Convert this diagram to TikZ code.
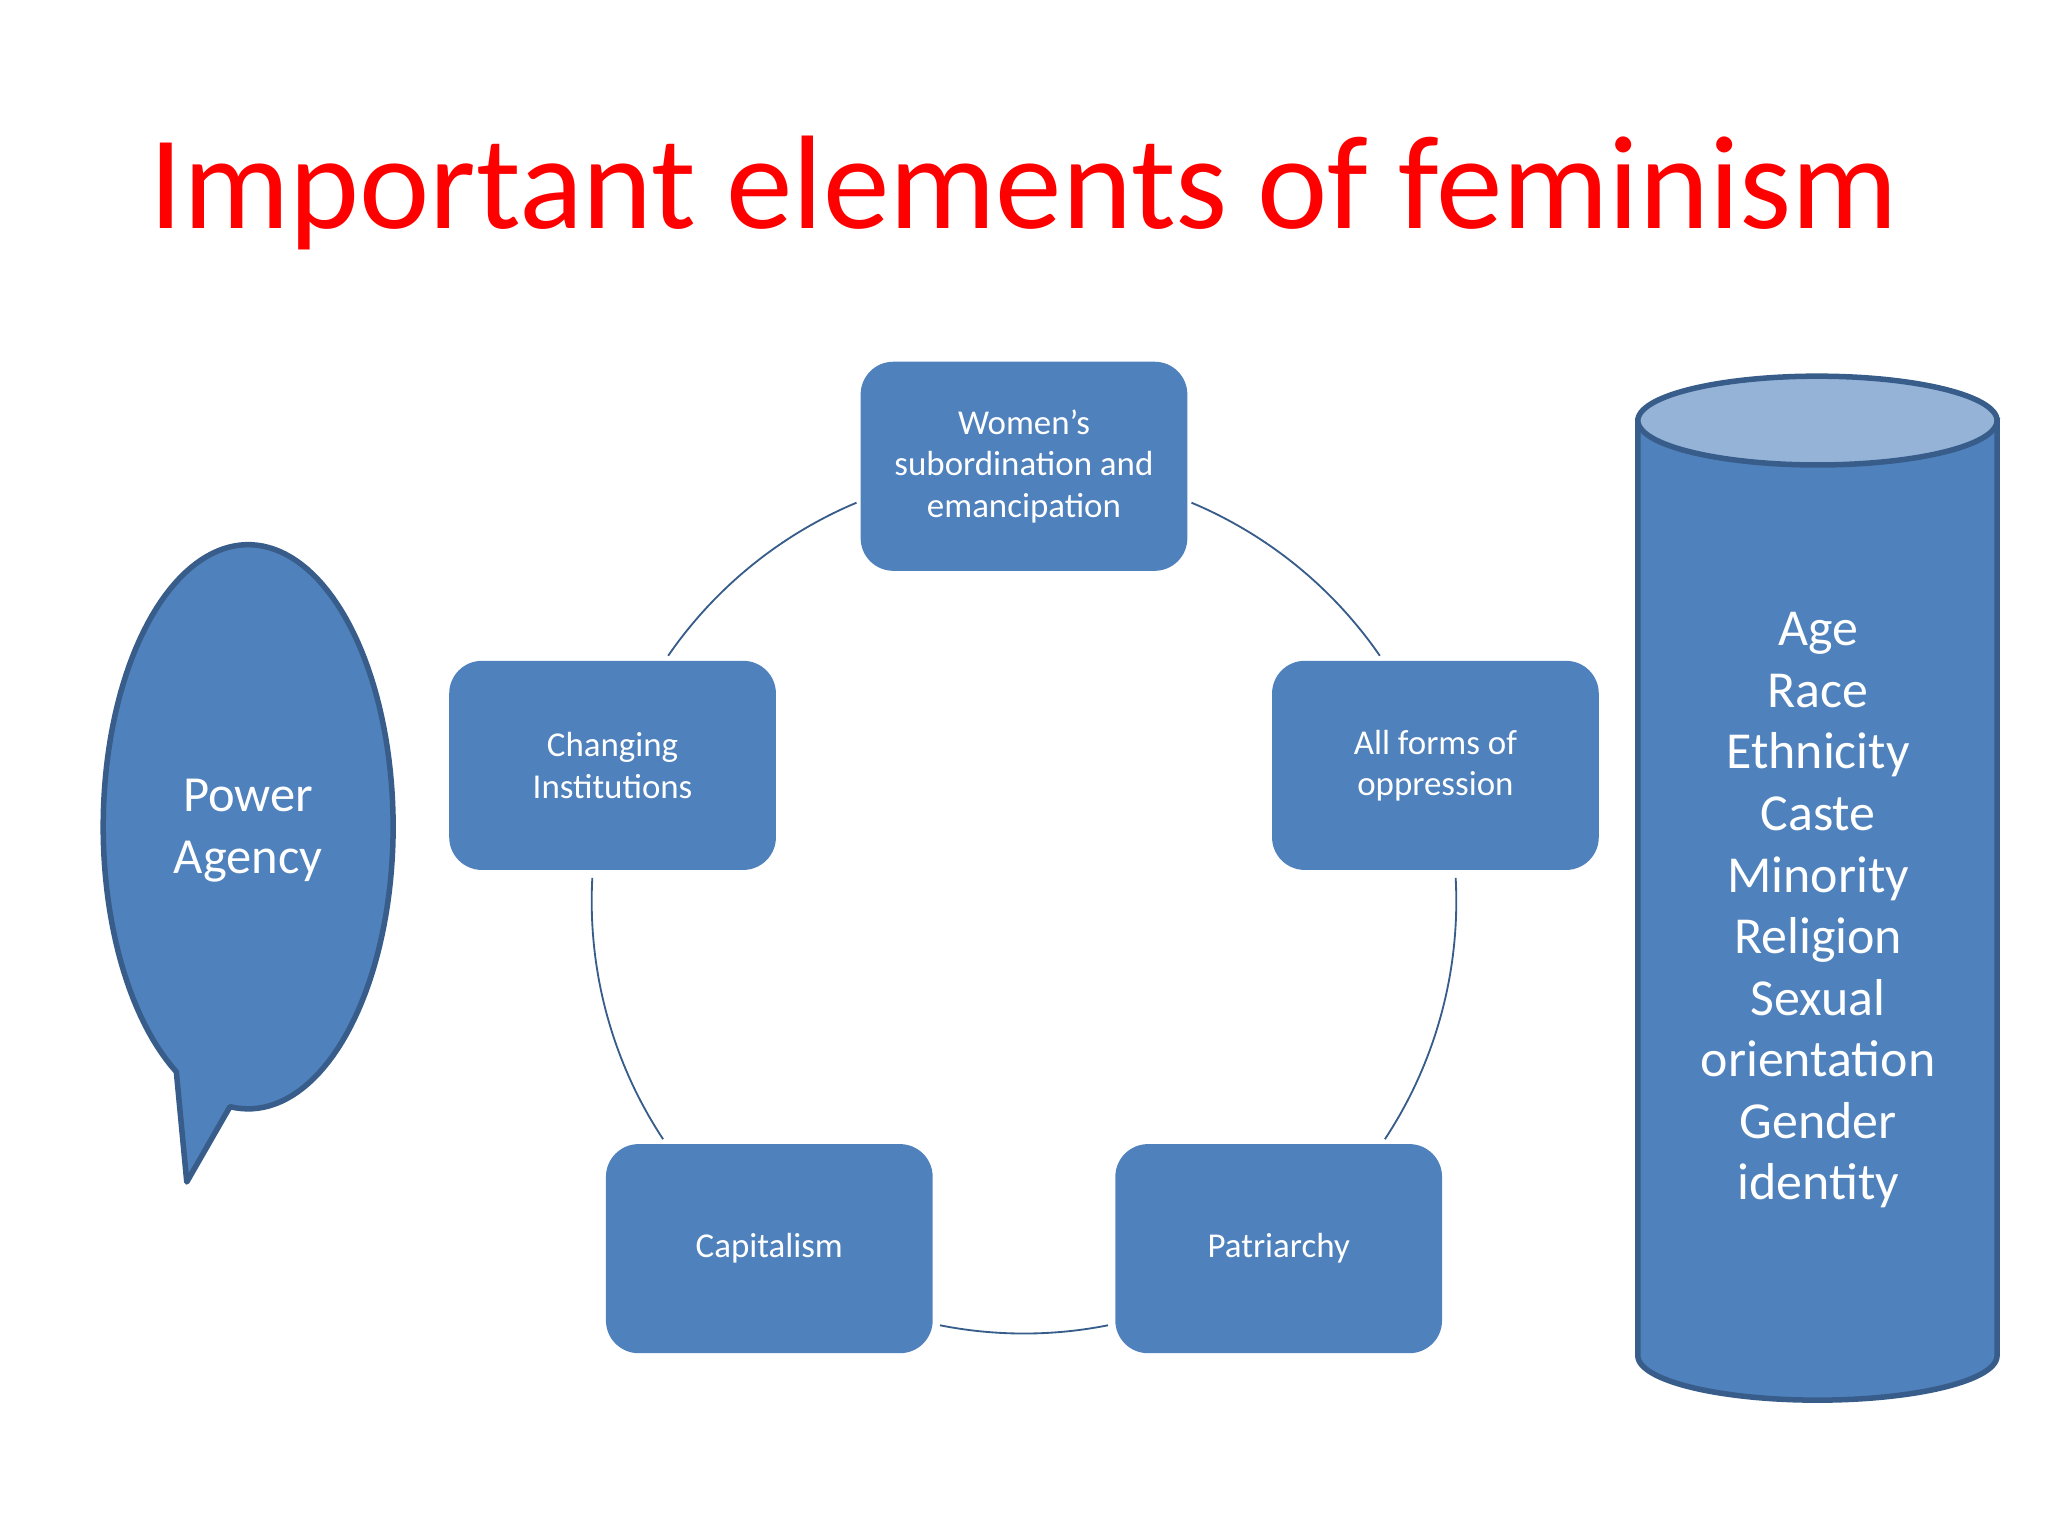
\documentclass[tikz,border=0pt]{standalone}
\usepackage{fontspec}
\setmainfont{Carlito}
\begin{document}
\begin{tikzpicture}[x=0.01cm,y=-0.01cm,
  box/.style={fill=boxblue,rounded corners=0.25cm,minimum width=2.5cm,minimum height=1.6cm,text=white,align=center,font=\fontsize{7.6}{9}\selectfont,inner sep=0},
  arcl/.style={draw=edgeblue,line width=0.4pt}]
\definecolor{boxblue}{HTML}{4F81BD}
\definecolor{edgeblue}{HTML}{385D8A}
\definecolor{lightblue}{HTML}{95B3D7}
\useasboundingbox (0,0) rectangle (1568,1176);
\node[text=red,font=\fontsize{29}{34}\selectfont] (title) at (784,148) {Important elements of feminism};
% cycle arcs
\foreach \a/\b in {112.8/145.4, 67.2/34.6, 176.9/213.4, 3.1/-33.4, 258.8/281.2}
  \draw[arcl] plot[domain=\a:\b,samples=40] ({784+331*cos(\x)},{690-331*sin(\x)});
\node[box] (w) at (784,357) {Women’s\\subordination and\\emancipation};
\node[box] (c) at (469,586) {Changing\\Institutions};
\node[box] (o) at (1099,586) {All forms of\\oppression};
\node[box] (k) at (589,956) {Capitalism};
\node[box] (p) at (979,956) {Patriarchy};
% speech bubble
\draw[fill=boxblue,draw=edgeblue,line width=1.2pt,line join=round]
  plot[domain=119.7:457.2,samples=150] ({190+111*cos(\x)},{633+216*sin(\x)}) -- (143,905) -- cycle;
\node[text=white,align=center,font=\fontsize{11}{13.5}\selectfont] (pa) at (190,636) {Power\\Agency};
% cylinder
\draw[fill=boxblue,draw=edgeblue,line width=1.2pt]
  (1254,322) -- (1254,1038) -- plot[domain=180:0,samples=80] ({1391.5+137.5*cos(\x)},{1038+34*sin(\x)}) -- (1529,322) -- cycle;
\draw[fill=lightblue,draw=edgeblue,line width=1.2pt]
  plot[domain=0:360,samples=120] ({1391.5+137.5*cos(\x)},{322+34*sin(\x)}) -- cycle;
\node[text=white,align=center,font=\fontsize{11.3}{13.4}\selectfont] (list) at (1392,697)
 {Age\\Race\\Ethnicity\\Caste\\Minority\\Religion\\Sexual\\orientation\\Gender\\identity};
\end{tikzpicture}
\end{document}
